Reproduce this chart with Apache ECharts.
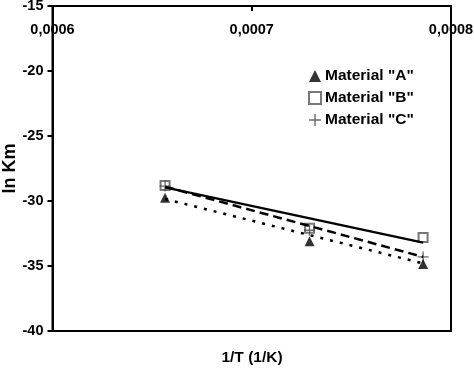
<!DOCTYPE html>
<html>
<head>
<meta charset="utf-8">
<script src="https://cdn.jsdelivr.net/npm/echarts@6/dist/echarts.min.js"></script>
<style>html,body{margin:0;padding:0;background:#fff;}#c{width:474px;height:368px;}</style>
</head>
<body>
<div id="c"></div>
<script>
// Measured points (x = 1/T in 1/K, y = ln Km)
const xA = [0.0006565, 0.000729, 0.000786];
const yA = [-29.75, -33.1, -34.85];
const xB = [0.0006565, 0.000729, 0.000786];
const yB = [-28.8, -32.1, -32.8];
const xC = [0.0006565, 0.000729, 0.000786];
const yC = [-28.85, -32.25, -34.3];
// Trend line endpoints
const trendX = [0.0006565, 0.000786];
const trendA = [-29.85, -34.8];   // dotted
const trendB = [-28.95, -33.2];   // solid
const trendC = [-28.9, -34.3];    // dashed
const names = ['Material "A"', 'Material "B"', 'Material "C"'];
const xTicks = [0.0006, 0.0007, 0.0008];
const yTicks = [-40, -35, -30, -25, -20, -15];

const zip = (xs, ys) => xs.map((x, i) => [x, ys[i]]);
const plusPath = 'path://M4.4,0H5.6V4.4H10V5.6H5.6V10H4.4V5.6H0V4.4H4.4Z';
const font = 'Liberation Sans, Arial, sans-serif';

const chart = echarts.init(document.getElementById('c'), null, {renderer: 'canvas'});
chart.setOption({
  animation: false,
  backgroundColor: '#fff',
  grid: {left: 52.5, right: 23, top: 6, bottom: 37, containLabel: false, outerBoundsMode: 'none',
    show: true, borderColor: '#000', borderWidth: 2, backgroundColor: 'transparent'},
  xAxis: {
    type: 'value', position: 'top', min: xTicks[0], max: xTicks[xTicks.length - 1], interval: 0.0001,
    axisLine: {show: true, lineStyle: {color: '#000', width: 2}},
    axisTick: {show: true, inside: true, length: 5, lineStyle: {color: '#000', width: 2}},
    axisLabel: {inside: true, margin: 16, color: '#000', fontWeight: 'bold', fontSize: 14.5, fontFamily: font,
      formatter: v => v.toFixed(4).replace('.', ',')},
    splitLine: {show: false}
  },
  yAxis: {
    type: 'value', min: yTicks[0], max: yTicks[yTicks.length - 1], interval: 5,
    name: 'ln Km', nameLocation: 'middle', nameGap: 33, nameRotate: 90, nameMoveOverlap: false,
    nameTextStyle: {color: '#000', fontWeight: 'bold', fontSize: 18, fontFamily: font},
    axisLine: {show: true, lineStyle: {color: '#000', width: 2}},
    axisTick: {show: true, length: 5, lineStyle: {color: '#000', width: 2}},
    axisLabel: {margin: 9, color: '#000', fontWeight: 'bold', fontSize: 14.5, fontFamily: font},
    splitLine: {show: false}
  },
  legend: {
    orient: 'vertical', left: 303, top: 63, itemGap: 6, itemWidth: 12, itemHeight: 12,
    data: names,
    textStyle: {color: '#000', fontWeight: 'bold', fontSize: 15.5, fontFamily: font, padding: [0, 0, 0, -1]}
  },
  graphic: [{
    type: 'text', x: 252, y: 358,
    style: {text: '1/T (1/K)', fill: '#000', font: 'bold 15.5px ' + font, textAlign: 'center', textVerticalAlign: 'middle'}
  }],
  series: [
    {type: 'line', data: zip(trendX, trendA), symbol: 'none', silent: true, lineStyle: {color: '#000', width: 2.5, type: [3, 7]}},
    {type: 'line', data: zip(trendX, trendB), symbol: 'none', silent: true, lineStyle: {color: '#000', width: 2.5, type: 'solid'}},
    {type: 'line', data: zip(trendX, trendC), symbol: 'none', silent: true, lineStyle: {color: '#000', width: 2.5, type: [9, 5]}},
    {name: names[1], type: 'scatter', data: zip(xB, yB), symbol: 'emptyRect', symbolSize: 9,
      itemStyle: {color: '#555', borderColor: '#555', borderWidth: 1.2}},
    {name: names[2], type: 'scatter', data: zip(xC, yC), symbol: plusPath, symbolSize: 11,
      itemStyle: {color: '#444'}},
    {name: names[0], type: 'scatter', data: zip(xA, yA), symbol: 'triangle', symbolSize: 10,
      itemStyle: {color: '#000'}}
  ]
});
</script>
</body>
</html>
